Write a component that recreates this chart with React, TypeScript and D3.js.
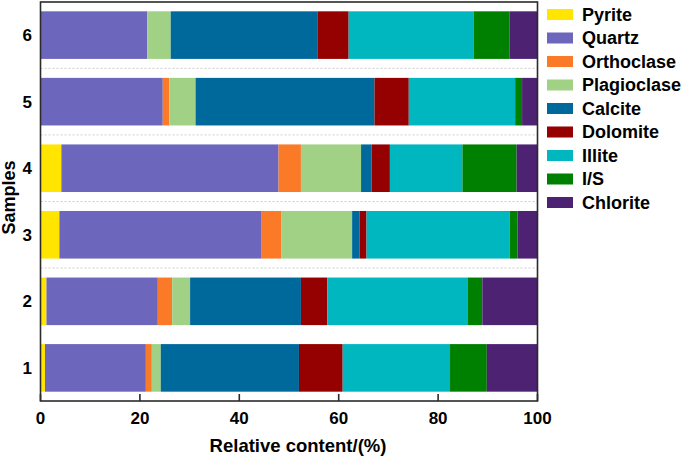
import React from "react";
import * as d3 from "d3";

const samples = ["1", "2", "3", "4", "5", "6"];
const minerals = [
  "Pyrite",
  "Quartz",
  "Orthoclase",
  "Plagioclase",
  "Calcite",
  "Dolomite",
  "Illite",
  "I/S",
  "Chlorite",
];
const colors = [
  "#ffe500",
  "#6c66bc",
  "#fa7a28",
  "#a0d185",
  "#00699c",
  "#950000",
  "#00b6bf",
  "#008000",
  "#4e2273",
];

// mineral contents (%) per sample, in the same order as `minerals`
const s1 = [0.9, 20.3, 1.2, 1.8, 27.8, 8.8, 21.6, 7.4, 10.2];
const s2 = [1.2, 22.4, 2.9, 3.6, 22.3, 5.3, 28.3, 2.9, 11.1];
const s3 = [3.8, 40.7, 4.0, 14.2, 1.5, 1.4, 28.8, 1.6, 4.0];
const s4 = [4.2, 43.7, 4.5, 12.1, 2.1, 3.7, 14.6, 10.9, 4.2];
const s5 = [0, 24.6, 1.3, 5.3, 36.0, 6.9, 21.4, 1.4, 3.1];
const s6 = [0, 21.5, 0, 4.7, 29.5, 6.3, 25.2, 7.2, 5.6];
const values = [s1, s2, s3, s4, s5, s6];

const xTicks = [0, 20, 40, 60, 80, 100];

const W = 685;
const H = 458;
const left = 40.5;
const right = 537.5;
const top = 2;
const bottom = 401;
const font = "Arial, 'Liberation Sans', sans-serif";

export default function App() {
  const x = d3.scaleLinear().domain([0, 100]).range([left, right]);
  const y = d3
    .scaleBand<string>()
    .domain([...samples].reverse())
    .range([top, bottom])
    .paddingInner(0.285)
    .paddingOuter(0.14);

  const rows = samples.map((s, i) => {
    const obj: any = { sample: s };
    minerals.forEach((m, j) => (obj[m] = values[i][j]));
    return obj;
  });
  const series = d3.stack().keys(minerals)(rows);
  const color = d3.scaleOrdinal<string>().domain(minerals).range(colors);

  // dotted separators between neighbouring samples (none between 1 and 2)
  const order = [...samples].reverse();
  const seps = order.slice(0, 4).map((s, i) => {
    const a = (y(s) as number) + y.bandwidth();
    const b = y(order[i + 1]) as number;
    return (a + b) / 2;
  });

  return (
    <svg
      width={W}
      height={H}
      style={{ position: "absolute", left: 0, top: 0, background: "#fff" }}
      fontFamily={font}
      fontWeight="bold"
    >
      {seps.map((yy, i) => (
        <line
          key={i}
          x1={left}
          x2={right}
          y1={yy}
          y2={yy}
          stroke="#cfcfcf"
          strokeWidth={1}
          strokeDasharray="2,2"
        />
      ))}
      {series.map((ser) => (
        <g key={ser.key} fill={color(ser.key)}>
          {ser.map((d: any) => (
            <rect
              key={d.data.sample}
              x={x(d[0])}
              y={y(d.data.sample)}
              width={Math.max(0, x(d[1]) - x(d[0]))}
              height={y.bandwidth()}
            />
          ))}
        </g>
      ))}
      <rect
        x={left}
        y={top}
        width={right - left}
        height={bottom - top}
        fill="none"
        stroke="#2b2b2b"
        strokeWidth={1.6}
      />
      {xTicks.map((t) => (
        <g key={t}>
          <line
            x1={x(t)}
            x2={x(t)}
            y1={bottom}
            y2={bottom - 7}
            stroke="#2b2b2b"
            strokeWidth={1.6}
          />
          <text
            x={x(t)}
            y={423.5}
            textAnchor="middle"
            fontSize={17}
            fill="#000"
          >
            {t}
          </text>
        </g>
      ))}
      {samples.map((s) => (
        <text
          key={s}
          x={32}
          y={(y(s) as number) + y.bandwidth() / 2 + 6}
          textAnchor="end"
          fontSize={17}
          fill="#000"
        >
          {s}
        </text>
      ))}
      <text
        x={298}
        y={452}
        textAnchor="middle"
        fontSize={18.5}
        fill="#000"
      >
        Relative content/(%)
      </text>
      <text
        transform={`translate(15,${(top + bottom) / 2 - 4}) rotate(-90)`}
        textAnchor="middle"
        fontSize={18}
        fill="#000"
      >
        Samples
      </text>
      {minerals.map((m, i) => {
        const cy = 14.5 + i * 23.5;
        return (
          <g key={m}>
            <rect x={547} y={cy - 5.5} width={26} height={11} fill={color(m)} />
            <text x={582} y={cy + 6} fontSize={18} fill="#000">
              {m}
            </text>
          </g>
        );
      })}
    </svg>
  );
}
